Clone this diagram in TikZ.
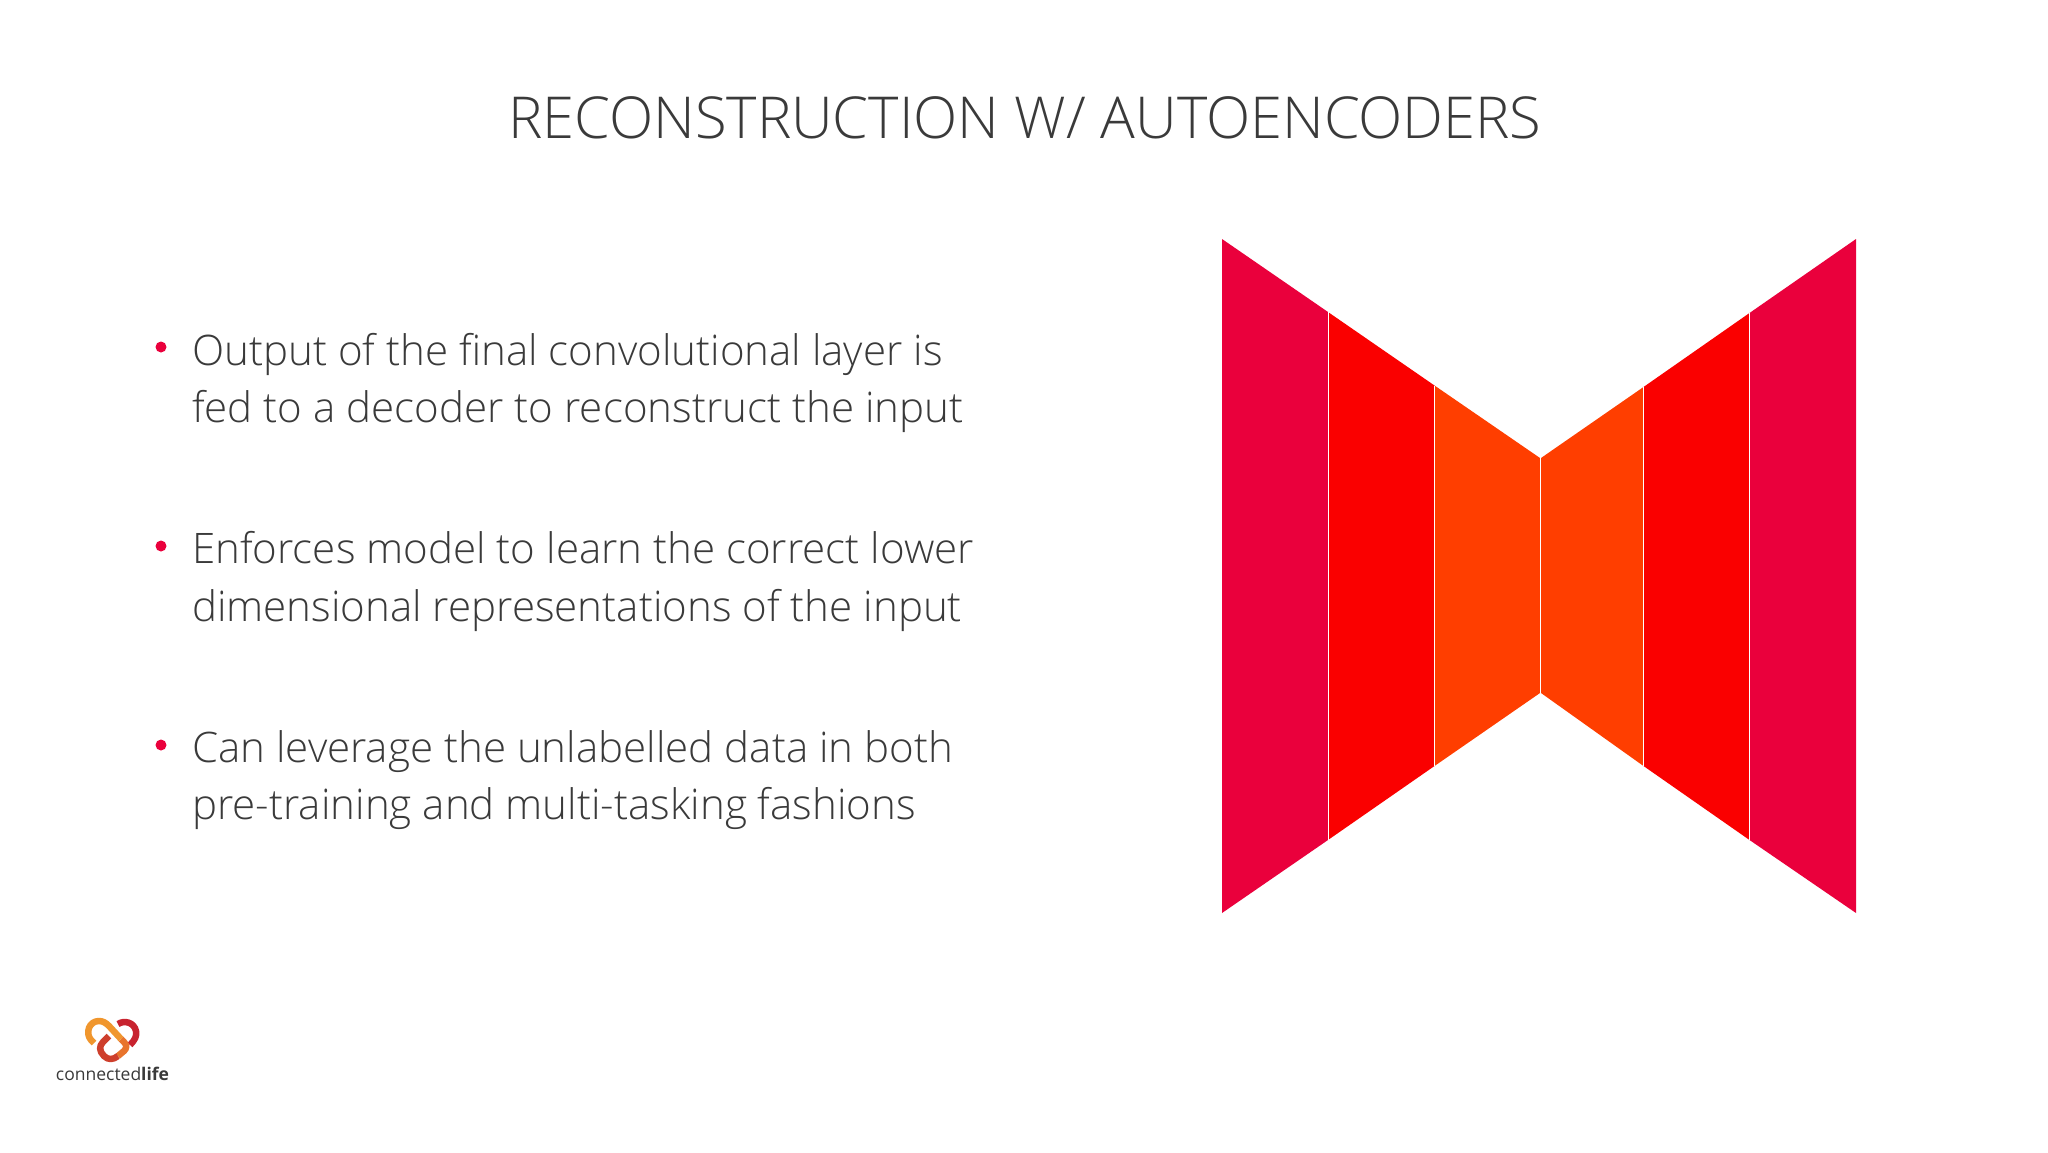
\documentclass[tikz,border=0pt]{standalone}
\usepackage{fontspec}
\setmainfont{Open Sans Light}
\newfontfamily\logoreg{Open Sans}
\definecolor{txt}{HTML}{3A3A3A}
\definecolor{crim}{HTML}{EA003C}
\definecolor{pure}{HTML}{FA0000}
\definecolor{oran}{HTML}{FF3E00}
\definecolor{HeartRed}{HTML}{C8232F}
\definecolor{HeartOr}{HTML}{F0962D}
\definecolor{HeartMid}{HTML}{E8742C}
\definecolor{HeartDk}{HTML}{CE3F2C}
\tikzset{
 body/.style={anchor=base west,inner sep=0pt,text=txt,font=\fontsize{42.05}{42.05}\selectfont},
 ttl/.style={anchor=base,inner sep=0pt,text=txt,font=\fontsize{57.8}{57.8}\selectfont},
 dotb/.style={circle,fill=crim,inner sep=0pt,minimum size=11pt},
 seg/.style={draw=white,line width=1pt},
 lk/.style={line width=6.5pt,line cap=butt,line join=round},
}
\begin{document}
\begin{tikzpicture}[x=1pt,y=-1pt]
\useasboundingbox (0,0) rectangle (2048,1152);
\fill[white] (0,0) rectangle (2048,1152);
\node[ttl] (title) at (1025,138) {RECONSTRUCTION W/ AUTOENCODERS};
\node[dotb] (b1) at (161,347) {};
\node[body] (l1a) at (192,365) {Output of the final convolutional layer is};
\node[body] (l1b) at (192,422) {fed to a decoder to reconstruct the input};
\node[dotb] (b2) at (161,546) {};
\node[body] (l2a) at (192,563) {Enforces model to learn the correct lower};
\node[body] (l2b) at (192,621) {dimensional representations of the input};
\node[dotb] (b3) at (161,745) {};
\node[body] (l3a) at (192,762) {Can leverage the unlabelled data in both};
\node[body] (l3b) at (192,819) {pre-training and multi-tasking fashions};
% hourglass
\fill[crim] (1222,239) -- (1328,312) -- (1328,840) -- (1222,913) -- cycle;
\fill[pure] (1328,312) -- (1434.5,385.5) -- (1434.5,766) -- (1328,840) -- cycle;
\fill[oran] (1434.5,385.5) -- (1540,458) -- (1540,693) -- (1434.5,766) -- cycle;
\fill[oran] (1541,458) -- (1643.5,387) -- (1643.5,766) -- (1541,693) -- cycle;
\fill[pure] (1643.5,387) -- (1749.5,313) -- (1749.5,840) -- (1643.5,766) -- cycle;
\fill[crim] (1749.5,313) -- (1856,239) -- (1856,913) -- (1749.5,840) -- cycle;
\draw[seg] (1328,312) -- (1328,840);
\draw[seg] (1434.5,385.5) -- (1434.5,766);
\draw[seg] (1540.5,458) -- (1540.5,693);
\draw[seg] (1643.5,387) -- (1643.5,766);
\draw[seg] (1749.5,313) -- (1749.5,840);
% logo
\draw[lk,draw=HeartRed] (118,1024) .. controls (124,1020) and (134,1022) .. (136,1031) .. controls (137,1036) and (135,1040) .. (130,1045);
\draw[lk,draw=HeartOr] (94,1043) -- (91,1040) .. controls (85,1033) and (89,1021) .. (99,1021) .. controls (103,1021) and (106,1023) .. (109,1026) -- (121,1039);
\draw[lk,draw=HeartMid] (121,1039) -- (124,1042) .. controls (127,1045) and (127,1048) .. (124,1051) -- (118,1056);
\draw[lk,draw=HeartDk] (118,1056) .. controls (113,1060) and (108,1060) .. (104,1056) .. controls (99,1051) and (99,1046) .. (103,1042) -- (109,1036);
\node[anchor=base,inner sep=0pt,text=txt,font=\fontsize{17.5}{17.5}\selectfont] (logo) at (112.5,1080) {\logoreg connected\textbf{life}};
\end{tikzpicture}
\end{document}
